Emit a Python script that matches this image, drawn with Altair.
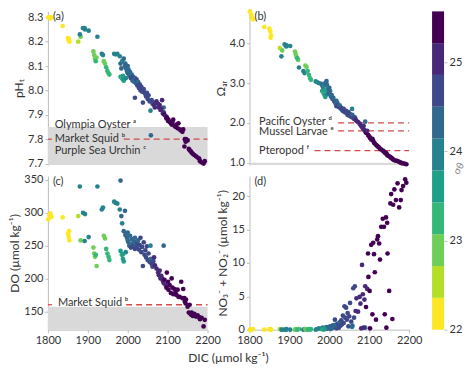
import altair as alt
import pandas as pd

# ---------------- data ----------------
DIC = [1801, 1804, 1806, 1809, 1837, 1850, 1852, 1854, 1853, 1876,
       1882, 1888, 1893, 1892, 1902, 1880, 1924, 1914, 1916, 1918,
       1922, 1920, 1935, 1938, 1940, 1943, 1946, 1949, 1952, 1954,
       1966, 1970, 1974, 1980, 1982, 1984, 1986, 1993, 1982, 1985,
       1988, 1990, 1995, 1996, 1998, 2000, 2002, 2004, 2006, 2008,
       2010, 2012, 2014, 2016, 2018, 2018, 2020, 2022, 2024, 2026,
       2028, 2030, 2032, 2034, 2036, 2038, 2040, 2042, 2044, 2046,
       2048, 2050, 2052, 2055, 2057, 2058, 2060, 2062, 2064, 2066,
       2068, 2090, 1990, 1994, 2000, 1988, 2072, 2076, 2078, 2080,
       2082, 2084, 2086, 2088, 2090, 2092, 2095, 2097, 2098, 2101,
       2102, 2105, 2108, 2110, 2112, 2114, 2117, 2120, 2122, 2125,
       2127, 2130, 2134, 2137, 2139, 2142, 2143, 2145, 2146, 2150,
       2153, 2155, 2158, 2160, 2163, 2167, 2171, 2175, 2179, 2181,
       2185, 2190, 2193]

SIGMA = [22.05, 22.05, 22.10, 22.10, 22.15, 22.20, 22.20, 22.20, 22.25, 22.55,
         22.90, 23.90, 23.95, 23.80, 23.90, 23.90, 24.05, 22.90, 22.95, 23.00,
         22.90, 23.10, 23.90, 23.95, 22.95, 23.00, 23.10, 23.20, 23.30, 23.35,
         24.00, 24.10, 24.05, 24.10, 24.20, 24.15, 24.10, 24.20, 23.50, 23.40,
         23.60, 23.50, 23.80, 24.30, 24.40, 24.30, 24.20, 24.40, 24.35, 24.50,
         24.30, 24.40, 24.50, 24.45, 24.40, 24.60, 24.30, 24.50, 24.60, 24.45,
         24.55, 24.60, 24.50, 24.65, 24.60, 24.70, 24.55, 24.70, 24.75, 24.60,
         24.70, 24.80, 24.65, 24.75, 24.10, 24.30, 24.80, 24.85, 24.80, 24.90,
         24.90, 24.20, 24.20, 24.30, 24.25, 23.70, 25.00, 25.05, 25.10, 25.00,
         25.10, 25.15, 25.20, 25.10, 25.20, 25.25, 25.20, 25.30, 25.25, 25.30,
         25.35, 25.30, 25.40, 25.35, 25.40, 25.45, 25.40, 25.45, 25.50, 25.45,
         25.50, 25.50, 25.55, 25.50, 25.55, 25.55, 25.55, 25.55, 25.55, 25.55,
         25.55, 25.55, 25.55, 25.55, 25.55, 25.55, 25.55, 25.55, 25.55, 25.55,
         25.55, 25.55, 25.55]

PH = [8.300, 8.300, 8.295, 8.300, 8.264, 8.215, 8.205, 8.200, 8.210, 8.200,
      8.220, 8.255, 8.250, 8.255, 8.245, 8.230, 8.220, 8.160, 8.145, 8.130,
      8.135, 8.120, 8.150, 8.145, 8.120, 8.110, 8.095, 8.080, 8.070, 8.065,
      8.150, 8.148, 8.150, 8.140, 8.110, 8.090, 8.120, 8.100, 8.056, 8.050,
      8.045, 8.040, 8.050, 8.090, 8.080, 8.070, 8.085, 8.060, 8.075, 8.050,
      8.065, 8.040, 8.055, 8.035, 8.050, 7.970, 8.030, 8.045, 8.020, 8.035,
      8.010, 8.025, 8.000, 8.015, 7.995, 7.950, 8.005, 7.990, 7.985, 7.975,
      7.990, 7.965, 7.980, 7.955, 7.917, 7.816, 7.960, 7.945, 7.950, 7.940,
      7.930, 7.930, 8.130, 8.110, 8.100, 8.060, 7.955, 7.945, 7.930, 7.940,
      7.920, 7.925, 7.960, 7.905, 7.910, 7.900, 7.895, 7.885, 7.890, 7.875,
      7.880, 7.870, 7.865, 7.860, 7.870, 7.880, 7.855, 7.850, 7.860, 7.845,
      7.865, 7.840, 7.835, 7.830, 7.840, 7.770, 7.800, 7.790, 7.800, 7.795,
      7.760, 7.755, 7.750, 7.745, 7.740, 7.735, 7.730, 7.725, 7.720, 7.710,
      7.705, 7.700, 7.710]

OMEGA = [4.80, 4.72, 4.65, 4.60, 4.41, 4.37, 4.30, 4.20, 4.14, 3.88,
         3.82, 3.97, 3.95, 3.92, 3.93, 3.67, 3.39, 3.79, 3.72, 3.65,
         3.58, 3.62, 3.30, 3.25, 3.44, 3.40, 3.30, 3.20, 3.12, 3.08,
         3.04, 3.02, 3.00, 2.98, 2.95, 2.90, 2.92, 3.05, 2.80, 2.75,
         2.70, 2.65, 2.72, 2.85, 2.78, 2.74, 2.80, 2.66, 2.70, 2.60,
         2.63, 2.56, 2.52, 2.48, 2.55, 2.42, 2.50, 2.45, 2.40, 2.44,
         2.36, 2.38, 2.33, 2.30, 2.35, 2.28, 2.26, 2.30, 2.24, 2.20,
         2.27, 2.18, 2.22, 2.15, 2.35, 2.20, 2.12, 2.10, 2.14, 2.08,
         2.05, 2.03, 3.00, 2.96, 2.88, 2.82, 2.02, 1.98, 1.95, 1.92,
         1.90, 1.86, 1.92, 1.82, 1.78, 1.75, 1.80, 1.70, 1.68, 1.65,
         1.62, 1.58, 1.60, 1.55, 1.50, 1.48, 1.45, 1.42, 1.40, 1.38,
         1.35, 1.33, 1.30, 1.28, 1.25, 1.24, 1.22, 1.20, 1.18, 1.16,
         1.14, 1.12, 1.10, 1.08, 1.06, 1.05, 1.04, 1.02, 1.00, 0.99,
         0.98, 0.97, 0.96]

DO = [290, 296, 299, 294, 293, 268, 263, 258, 272, 295,
      258, 300, 298, 257, 263, 340, 340, 247, 238, 233,
      219, 236, 305, 308, 265, 261, 245, 238, 233, 228,
      317, 315, 314, 305, 349, 295, 284, 303, 242, 236,
      230, 226, 240, 268, 262, 258, 255, 250, 265, 247,
      260, 253, 249, 256, 262, 245, 250, 247, 254, 258,
      244, 251, 262, 240, 248, 219, 255, 236, 243, 232,
      249, 228, 238, 225, 250, 230, 222, 218, 226, 232,
      220, 250, 272, 266, 270, 237, 215, 209, 205, 212,
      200, 204, 200, 196, 193, 198, 190, 186, 209, 195,
      183, 190, 178, 200, 186, 176, 184, 180, 175, 183,
      172, 172, 195, 170, 184, 170, 165, 162, 168, 157,
      148, 160, 145, 148, 143, 146, 142, 144, 141, 138,
      140, 127, 137]

NOX = [0.0, 0.1, 0.0, 0.1, 0.0, 0.1, 0.0, 0.0, 0.1, 0.1,
       0.0, 0.0, 0.1, 0.0, 0.0, 0.0, 0.1, 0.0, 0.1, 0.0,
       0.1, 0.0, 0.0, 0.1, 0.1, 0.0, 0.0, 0.1, 0.0, 0.1,
       0.0, 0.1, 0.2, 0.1, 0.2, 0.3, 0.2, 0.4, 0.1, 0.0,
       0.2, 0.1, 0.3, 0.2, 0.3, 0.2, 0.5, 0.1, 0.4, 0.6,
       0.3, 0.7, 1.5, 0.4, 0.8, 0.2, 0.5, 0.9, 0.3, 1.1,
       0.6, 1.4, 0.8, 2.1, 1.0, 3.5, 1.8, 3.3, 1.5, 2.5,
       0.5, 2.0, 4.0, 1.2, 0.4, 0.6, 6.2, 1.8, 6.5, 2.8,
       4.7, 0.3, 0.1, 0.2, 0.4, 0.1, 2.7, 4.9, 3.9, 0.2,
       9.7, 5.3, 0.3, 4.5, 6.5, 3.4, 6.1, 11.4, 7.9, 5.8,
       0.2, 12.7, 2.3, 13.0, 11.3, 8.6, 1.5, 13.5, 14.0, 12.9,
       10.5, 15.4, 16.6, 15.4, 2.3, 16.8, 0.3, 16.0, 11.4, 5.8,
       18.9, 20.3, 1.6, 18.7, 21.0, 19.4, 21.9, 18.3, 19.4, 20.9,
       21.5, 22.5, 22.0]

# colour bar (sigma-theta bins)
BIN_EDGES = [22.0, 22.357, 22.714, 23.071, 23.428, 23.785, 24.142, 24.5, 24.857, 25.214, 25.57]
BIN_COLORS = ["#fde725", "#b5de2b", "#6ece58", "#35b779", "#1f9e89",
              "#26828e", "#31688e", "#3e4989", "#482878", "#440154"]
CB_TICKS = [22, 23, 24, 25]

# threshold annotations
A_LABELS = ["Olympia Oyster ᵃ", "Market Squid ᵇ", "Purple Sea Urchin ᶜ"]
A_LABEL_Y = [7.857, 7.80, 7.752]
A_RULE_Y = 7.80
A_GRAY_TOP = 7.85

B_LABELS = ["Pacific Oyster ᵈ", "Mussel Larvae ᵉ", "Pteropod ᶠ"]
B_LABEL_Y = [2.02, 1.78, 1.3]
B_RULE_Y = [2.0, 1.8, 1.3]
B_RULE_START = [2022, 2022, 1963]
B_GRAY_TOP = 1.0

C_LABELS = ["Market Squid ᵇ"]
C_LABEL_Y = [163]
C_RULE_Y = 160
C_GRAY_TOP = 157

X_TITLE = "DIC (µmol kg⁻¹)"

df = pd.DataFrame({"DIC": DIC, "sigma": SIGMA, "pH": PH, "omega": OMEGA,
                   "DO": DO, "NOx": NOX})

FONT = "Lato"
TXT = "#333333"
GRAY_FILL = "#d9d9d9"
RED = "#d24b4b"
AXC = "#bdbdbd"
PW, PH_ = 160, 154
ROW_GAP = 11
COL_GAP = 42

color_scale = alt.Scale(type="threshold", domain=BIN_EDGES[1:-1], range=BIN_COLORS)
xscale = alt.Scale(domain=[1800, 2200], nice=False, zero=False)


def make_panel(col, ydom, yticks, yfmt, ytitle, gray_top, rule_df, text_df, tag, xaxis,
               extra=None):
    yscale = alt.Scale(domain=ydom, nice=False, zero=False)
    X = alt.X("DIC:Q", scale=xscale, axis=xaxis)
    Y = alt.Y(f"{col}:Q", scale=yscale,
              axis=alt.Axis(title=ytitle, values=yticks, format=yfmt, labelFlush=False,
                            titlePadding=2))
    layers = []
    if gray_top is not None:
        gdf = pd.DataFrame({"DIC": [1800], "DIC_end": [2200], col: [ydom[0]], "y_end": [gray_top]})
        layers.append(alt.Chart(gdf).mark_rect(color=GRAY_FILL).encode(
            x=X, x2="DIC_end:Q", y=Y, y2="y_end:Q"))
    if rule_df is not None:
        layers.append(alt.Chart(rule_df).mark_rule(color=RED, strokeDash=[6, 4], strokeWidth=1.3).encode(
            x=X, x2="DIC_end:Q", y=Y))
    if text_df is not None:
        layers.append(alt.Chart(text_df).mark_text(
            align="left", baseline="middle", font=FONT, fontSize=11, color=TXT).encode(
            x=X, y=Y, text="label:N"))
    layers.append(alt.Chart(df).mark_circle(size=22, opacity=1).encode(
        x=X, y=Y, color=alt.Color("sigma:Q", scale=color_scale, legend=None)))
    layers.append(alt.Chart(pd.DataFrame({"t": [tag]})).mark_text(
        align="left", baseline="middle", font=FONT, fontSize=11, color=TXT).encode(
        x=alt.value(5), y=alt.value(6), text="t:N"))
    if extra is not None:
        layers.append(extra)
    return alt.layer(*layers).properties(width=PW, height=PH_)


xvals = [1800, 1900, 2000, 2100, 2200]

# panel (a)
a_rules = pd.DataFrame({"DIC": [1800, 1990], "DIC_end": [1810, 2200], "pH": [A_RULE_Y, A_RULE_Y]})
a_text = pd.DataFrame({"DIC": [1817] * 3, "pH": A_LABEL_Y, "label": A_LABELS})
pa = make_panel("pH", [7.694, 8.324], [7.7, 7.8, 7.9, 8.0, 8.1, 8.2, 8.3], ".1f", "pHₜ",
                A_GRAY_TOP, a_rules, a_text, "(a)", None)

# panel (b)
b_rules = pd.DataFrame({"DIC": B_RULE_START, "DIC_end": [2200] * 3, "omega": B_RULE_Y})
b_text = pd.DataFrame({"DIC": [1824] * 3, "omega": B_LABEL_Y, "label": B_LABELS})
pb = make_panel("omega", [0.94, 4.80], [1.0, 2.0, 3.0, 4.0], ".1f", "Ωₐᵣ",
                B_GRAY_TOP, b_rules, b_text, "(b)", None)

# panel (c)
c_rules = pd.DataFrame({"DIC": [1800, 1996], "DIC_end": [1810, 2200], "DO": [C_RULE_Y, C_RULE_Y]})
c_text = pd.DataFrame({"DIC": [1825], "DO": C_LABEL_Y, "label": C_LABELS})
xaxis_c = alt.Axis(title="", values=xvals, format="d", labelFlush=False, labelOverlap=False)
x_title = alt.Chart(pd.DataFrame({"t": [X_TITLE]})).mark_text(
    align="center", baseline="middle", font=FONT, fontSize=12, color=TXT).encode(
    x=alt.value(PW + COL_GAP / 2), y=alt.value(PH_ + 28), text="t:N")
pc = make_panel("DO", [122, 356], [150, 200, 250, 300, 350], "d", "DO (µmol kg⁻¹)",
                C_GRAY_TOP, c_rules, c_text, "(c)", xaxis_c, extra=x_title)

# panel (d)
xaxis_d = alt.Axis(title="", values=xvals, format="d", labelFlush=False, labelOverlap=False)
pd_ = make_panel("NOx", [0, 23], [0, 5, 10, 15, 20], "d", "NO₃⁻ + NO₂⁻ (µmol kg⁻¹)",
                 None, None, None, "(d)", xaxis_d)

grid = alt.ConcatChart(concat=[pa, pb, pc, pd_], columns=2, bounds="flush",
                       spacing={"row": ROW_GAP, "column": COL_GAP})

cb_df = pd.DataFrame({"lo": BIN_EDGES[:-1], "hi": BIN_EDGES[1:], "c": BIN_COLORS})
colorbar = alt.Chart(cb_df).mark_rect().encode(
    y=alt.Y("lo:Q", scale=alt.Scale(domain=[BIN_EDGES[0], BIN_EDGES[-1]], nice=False, zero=False),
            axis=alt.Axis(orient="right", values=CB_TICKS, format="d", title="σθ",
                          titleAngle=300, titleFontSize=10, titleColor="#888888",
                          titlePadding=1, domain=False, labelFlush=False)),
    y2="hi:Q",
    color=alt.Color("c:N", scale=None),
).properties(width=12, height=2 * PH_ + ROW_GAP)

chart = alt.HConcatChart(hconcat=[grid, colorbar], spacing=10).properties(
    padding=0
).configure_axis(
    labelFont=FONT, titleFont=FONT, labelFontSize=11, titleFontSize=12,
    labelColor=TXT, titleColor=TXT, titleFontWeight="normal",
    domainColor=AXC, tickColor=AXC, tickSize=3, grid=False
).configure_view(stroke=None)

chart.save("out.html", embed_options={"renderer": "svg", "actions": False})
